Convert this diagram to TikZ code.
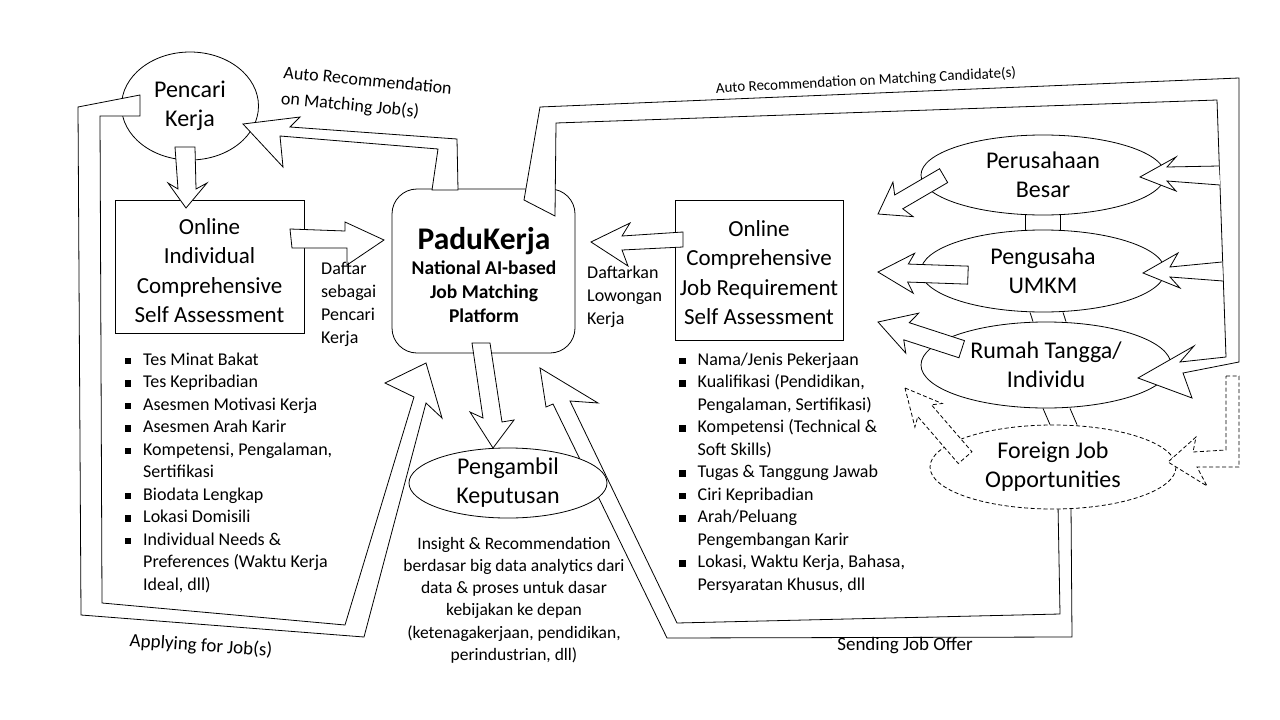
\documentclass[tikz,border=0pt]{standalone}
\usepackage{fontspec}
\setmainfont{Carlito}
\usetikzlibrary{shapes.geometric}
\newcommand\bitem[4]{\node[lbl,anchor=base west] (#1) at (#2,#3) {\rule[1pt]{6.5pt}{6.5pt}\hspace{12pt}#4};}
\newcommand\citem[4]{\node[lbl,anchor=base west] (#1) at (#2,#3) {\hspace{18.5pt}#4};}
\newcommand\blockarr[8]{%
  \begin{scope}[shift={#1},rotate=#2]
  \draw[#8] (0,0) -- (-#5-#7,#6) -- (-#5,#4) -- (-#3,#4) -- (-#3,-#4) -- (-#5,-#4) -- (-#5-#7,-#6) -- cycle;
  \end{scope}}
\begin{document}
\begin{tikzpicture}[x=1pt,y=-1pt,
  lw/.style={line width=0.8pt},
  barrow/.style={draw=black,fill=white,line width=0.8pt,line join=miter},
  dbarrow/.style={barrow,dash pattern=on 4pt off 2.5pt},
  ell/.style={ellipse,draw,fill=white,line width=0.8pt,inner sep=0pt,align=center,font=\fontsize{24}{29}\selectfont},
  sbox/.style={rectangle,draw,fill=white,line width=0.8pt,inner sep=0pt},
  btext/.style={inner sep=0pt,align=center,font=\fontsize{23}{29.5}\selectfont},
  lbl/.style={inner sep=0pt,font=\fontsize{18}{22}\selectfont},
  lbg/.style={inner sep=0pt,font=\fontsize{19}{23}\selectfont},
  lblsm/.style={inner sep=0pt,font=\fontsize{15}{18}\selectfont},
  ins/.style={inner sep=0pt,font=\fontsize{17.5}{22}\selectfont},
  subt/.style={inner sep=0pt,font=\bfseries\fontsize{19.5}{24}\selectfont}]
\fill[white] (0,0) rectangle (1280,720);
\useasboundingbox (0,0) rectangle (1280,720);

% ---------- main boxes ----------
\node[draw,fill=white,line width=0.8pt,rounded corners=25pt,minimum width=183pt,minimum height=164pt] (padu) at (483.5,271) {};
\node[sbox,minimum width=189pt,minimum height=133pt] (selfA) at (209.5,266.5) {};
\node[sbox,minimum width=168pt,minimum height=140pt] (jobA) at (759,270) {};
\node[btext] (selfAT) at (209.5,270.5) {Online\\Individual\\Comprehensive\\Self Assessment};
\node[btext] (jobAT) at (759,272.5) {Online\\Comprehensive\\Job Requirement\\Self Assessment};

% ---------- sending job offer (behind the ellipse) ----------
\draw[barrow] (1058,505) -- (1060,614) -- (677,623) -- (570,401) -- (598,403) -- (540,368) -- (546,407) -- (553,404) -- (667,638) -- (1072,637) -- (1071,505);

% ---------- ellipses ----------
\node[ell,minimum width=137pt,minimum height=108pt] (pencari) at (190,106) {Pencari\\Kerja};
\node[ell,minimum width=244pt,minimum height=80pt] (perus) at (1043,175) {Perusahaan\\Besar};
\node[ell,minimum width=244pt,minimum height=82pt] (pengu) at (1043,271) {Pengusaha\\UMKM};
\node[ell,minimum width=250pt,minimum height=86pt] (rumah) at (1046,365) {Rumah Tangga/\\Individu};
\node[ell,dash pattern=on 4pt off 2.5pt,minimum width=246pt,minimum height=84pt] (foreign) at (1053,467) {Foreign Job\\Opportunities};
\node[ell,minimum width=198pt,minimum height=66pt] (ambil) at (508,483) {Pengambil\\Keputusan};

% ---------- links between the ellipses ----------
\draw[lw] ([xshift=-18pt]perus.south) -- ([xshift=-18pt]pengu.north);
\draw[lw] ([xshift=17pt]perus.south) -- ([xshift=17pt]pengu.north);
\draw[lw] ([xshift=-13pt]pengu.south) -- ([xshift=-13pt]rumah.north);
\draw[lw] ([xshift=20pt]pengu.south) -- ([xshift=20pt]rumah.north);
\draw[lw] ([xshift=-3pt]rumah.south) -- ([xshift=-3pt]foreign.north);
\draw[lw] ([xshift=24pt]rumah.south) -- ([xshift=24pt]foreign.north);

% ---------- block arrows ----------
% applying for job(s)
\draw[barrow] (140,95) -- (78,107) -- (81,615) -- (364,637) -- (426,403) -- (442,418) -- (426,363) -- (385,383) -- (414,397) -- (345,625) -- (102,603) -- (100,116) -- (140,116) -- cycle;
% pencari -> self assessment
\draw[barrow] (175,147) -- (178,189) -- (168,183) -- (186,208) -- (207,183) -- (196,189) -- (195,147) -- cycle;
% self assessment -> padukerja
\draw[barrow] (290,229) -- (345,231) -- (345,222) -- (384,240) -- (347,265) -- (347,248) -- (292,248) -- cycle;
% padukerja -> pencari
\draw[barrow] (432,190) -- (438,149) -- (280,136) -- (283,167) -- (243,124) -- (300,117) -- (290,127) -- (457,139) -- (458,190) -- cycle;
% job assessment -> padukerja
\draw[barrow] (591,242) -- (630,223) -- (622,236) -- (683,232) -- (683,247) -- (622,250) -- (628,266) -- cycle;
% padukerja -> pengambil keputusan
\draw[barrow] (472,343) -- (483,418) -- (470,412) -- (493,448) -- (514,420) -- (502,422) -- (490,343) -- cycle;
% top frame: padukerja -> employers
\draw[barrow] (524,200) -- (540,107) -- (1239,78) -- (1239,362) -- (1183,373) -- (1192,398) -- (1138,378) -- (1194,346) -- (1180,362) -- (1226,357) -- (1217,100) -- (556,123) -- (555,216) -- cycle;
\draw[barrow] (1219,166) -- (1167,167) -- (1176,157) -- (1140,177) -- (1176,191) -- (1167,181) -- (1220,185);
\draw[barrow] (1222,262) -- (1170,267) -- (1178,253) -- (1143,273) -- (1180,288) -- (1170,277) -- (1223,281);
% dashed branch to foreign job
\draw[dbarrow] (1226,376) -- (1239,376) -- (1239,467) -- (1197,467) -- (1207,486) -- (1168,462) -- (1196,437) -- (1193,452) -- (1226,450) -- cycle;
% employers -> job assessment
\blockarr{(878,214)}{210.3}{76}{8}{24}{20}{5}{barrow}
\blockarr{(878,272)}{178}{90}{9}{30}{20}{6}{barrow}
\blockarr{(878,322)}{162}{88}{9}{30}{21}{6}{barrow}
\blockarr{(905,388)}{130.8}{92}{9}{30}{18}{6}{dbarrow}

% ---------- PaduKerja texts ----------
\node[inner sep=0pt,font=\bfseries\fontsize{31.5}{32}\selectfont,anchor=base] (paduT) at (484,249) {PaduKerja};
\node[subt,anchor=base] (paduS1) at (484,274) {National AI-based};
\node[subt,anchor=base] (paduS2) at (484,298) {Job Matching};
\node[subt,anchor=base] (paduS3) at (484,322) {Platform};

% ---------- labels ----------
\node[inner sep=0pt,font=\fontsize{18}{26}\selectfont,align=left,anchor=north west,rotate=-5.5] (ar) at (284.2,65.5) {Auto Recommendation\\on Matching Job(s)};
\node[lblsm,rotate=3] (arc) at (866,81) {Auto Recommendation on Matching Candidate(s)};
\foreach \t [count=\i] in {Daftar,sebagai,Pencari,Kerja}
  \node[lbl,anchor=base west] (dp\i) at (321,{274+23.2*(\i-1)}) {\t};
\foreach \t [count=\i] in {Daftarkan,Lowongan,Kerja}
  \node[lbl,anchor=base west] (dl\i) at (587,{278+23.2*(\i-1)}) {\t};
\foreach \t [count=\i] in {Insight \& Recommendation,berdasar big data analytics dari,data \& proses untuk dasar,kebijakan ke depan,{(ketenagakerjaan, pendidikan,},{perindustrian, dll)}}
  \node[ins,anchor=base] (in\i) at (514,{549+22.3*(\i-1)}) {\t};
\node[lbg,rotate=-4] (apl) at (201,646) {Applying for Job(s)};
\node[lbg] (sjo) at (905,646) {Sending Job Offer};

% ---------- lists ----------
\bitem{la1}{124.5}{365}{Tes Minat Bakat}
\bitem{la2}{124.5}{387.5}{Tes Kepribadian}
\bitem{la3}{124.5}{410}{Asesmen Motivasi Kerja}
\bitem{la4}{124.5}{432.5}{Asesmen Arah Karir}
\bitem{la5}{124.5}{455}{Kompetensi, Pengalaman,}
\citem{la6}{124.5}{477.5}{Sertifikasi}
\bitem{la7}{124.5}{500}{Biodata Lengkap}
\bitem{la8}{124.5}{522.5}{Lokasi Domisili}
\bitem{la9}{124.5}{545}{Individual Needs \&}
\citem{la10}{124.5}{567.5}{Preferences (Waktu Kerja}
\citem{la11}{124.5}{590}{Ideal, dll)}

\bitem{lb1}{679}{365}{Nama/Jenis Pekerjaan}
\bitem{lb2}{679}{387.5}{Kualifikasi (Pendidikan,}
\citem{lb3}{679}{410}{Pengalaman, Sertifikasi)}
\bitem{lb4}{679}{432.5}{Kompetensi (Technical \&}
\citem{lb5}{679}{455}{Soft Skills)}
\bitem{lb6}{679}{477.5}{Tugas \& Tanggung Jawab}
\bitem{lb7}{679}{500}{Ciri Kepribadian}
\bitem{lb8}{679}{522.5}{Arah/Peluang}
\citem{lb9}{679}{545}{Pengembangan Karir}
\bitem{lb10}{679}{567.5}{Lokasi, Waktu Kerja, Bahasa,}
\citem{lb11}{679}{590}{Persyaratan Khusus, dll}
\end{tikzpicture}
\end{document}
